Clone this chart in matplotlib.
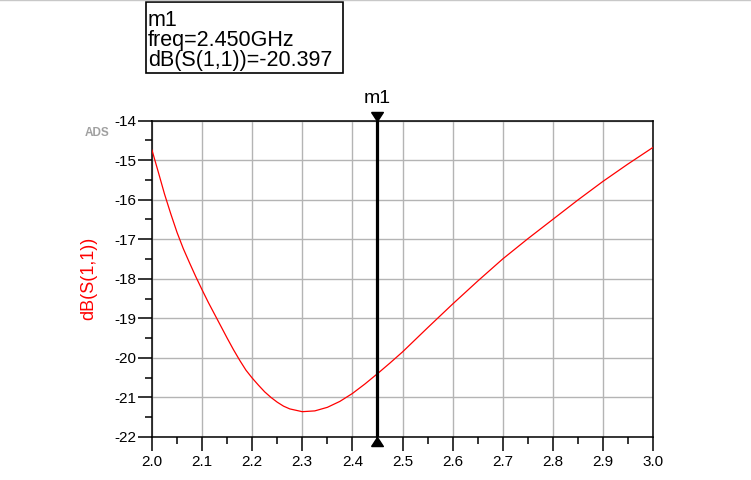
import numpy as np
import matplotlib.pyplot as plt
from matplotlib.path import Path

plt.rcParams['font.family'] = ['Liberation Sans', 'DejaVu Sans']
plt.rcParams['axes.unicode_minus'] = False

# S11 sweep
freq = [2.0000, 2.0125, 2.0250, 2.0375, 2.0500, 2.0625, 2.0750, 2.0875, 2.1000, 2.1125,
        2.1250, 2.1375, 2.1500, 2.1625, 2.1750, 2.1875, 2.2000, 2.2125, 2.2250, 2.2375,
        2.2500, 2.2625, 2.2750, 2.3000, 2.3250, 2.3500, 2.3750, 2.4000, 2.4250, 2.4500,
        2.4750, 2.5000, 2.5500, 2.6000, 2.6500, 2.7000, 2.7500, 2.8000, 2.8500, 2.9000,
        2.9500, 3.0000]
s11_db = [-14.75, -15.30, -15.86, -16.36, -16.83, -17.24, -17.60, -17.95, -18.28, -18.60,
          -18.90, -19.20, -19.50, -19.79, -20.06, -20.31, -20.51, -20.69, -20.86, -21.00,
          -21.12, -21.22, -21.29, -21.36, -21.34, -21.25, -21.10, -20.90, -20.66, -20.40,
          -20.13, -19.85, -19.24, -18.64, -18.06, -17.50, -16.99, -16.50, -16.01, -15.54,
          -15.10, -14.68]

marker_name = 'm1'
marker_freq = 2.45
marker_val = -20.397

xticks = np.round(np.arange(2.0, 3.01, 0.1), 1)
yticks = np.arange(-22, -13, 1)

fig = plt.figure(figsize=(7.51, 4.80), dpi=100)
ax = fig.add_axes([152 / 751, 1 - 437 / 480, 501 / 751, 316.5 / 480])

ax.plot(freq, s11_db, color='red', lw=0.9, zorder=3)

ax.set_xlim(2.0, 3.0)
ax.set_ylim(-22, -14)
ax.set_xticks(xticks)
ax.set_xticklabels(['%.1f' % v for v in xticks])
ax.set_yticks(yticks)
ax.set_yticklabels(['%d' % v for v in yticks])
ax.set_xticks(np.arange(2.05, 3.0, 0.1), minor=True)
ax.set_yticks(np.arange(-21.5, -14, 1.0), minor=True)
ax.grid(True, which='major', color='#b4b4b4', lw=1.0)
ax.tick_params(which='major', direction='out', length=10, width=1.1,
               labelsize=11, pad=1.5)
ax.tick_params(axis='x', which='major', pad=3)
ax.tick_params(which='minor', direction='out', length=5, width=1.1)
for s in ax.spines.values():
    s.set_linewidth(1.1)
    s.set_color('black')

ax.set_ylabel('dB(S(1,1))', color='red', fontsize=13)
ax.yaxis.set_label_coords(-0.11, 0.5)

# marker line with triangles at both ends
ax.axvline(marker_freq, color='black', lw=2.3, zorder=4)
tri_down = Path([(-0.65, 1), (0.65, 1), (0, 0), (-0.65, 1)])
tri_up = Path([(-0.65, -1), (0.65, -1), (0, 0), (-0.65, -1)])
ax.plot([marker_freq], [-14], marker=tri_down, ms=13, color='black',
        clip_on=False, zorder=5)
ax.plot([marker_freq], [-22], marker=tri_up, ms=13, color='black',
        clip_on=False, zorder=5)
ax.annotate(marker_name, xy=(marker_freq, -14), xytext=(0, 10),
            textcoords='offset points', fontsize=14, ha='center', va='bottom',
            annotation_clip=False)

ax.text(-0.11, 0.96, 'ADS', transform=ax.transAxes, fontsize=8.5,
        color='#a0a0a0', fontweight='bold', ha='center', va='center')

# marker readout box
box = plt.Rectangle((146 / 751, 1 - 73 / 480), 197 / 751, 71 / 480,
                    transform=fig.transFigure, fill=False, ec='black', lw=1.2)
fig.add_artist(box)
lines = [marker_name, 'freq=%.3fGHz' % marker_freq, 'dB(S(1,1))=%.3f' % marker_val]
for i, s in enumerate(lines):
    fig.text(148 / 751, 1 - (26 + 20 * i) / 480, s, fontsize=15.5,
             ha='left', va='baseline')

fig.add_artist(plt.Line2D([0, 1], [0.999, 0.999], transform=fig.transFigure,
                          color='#c8c8c8', lw=1))

fig.savefig('out.png', dpi=100)
